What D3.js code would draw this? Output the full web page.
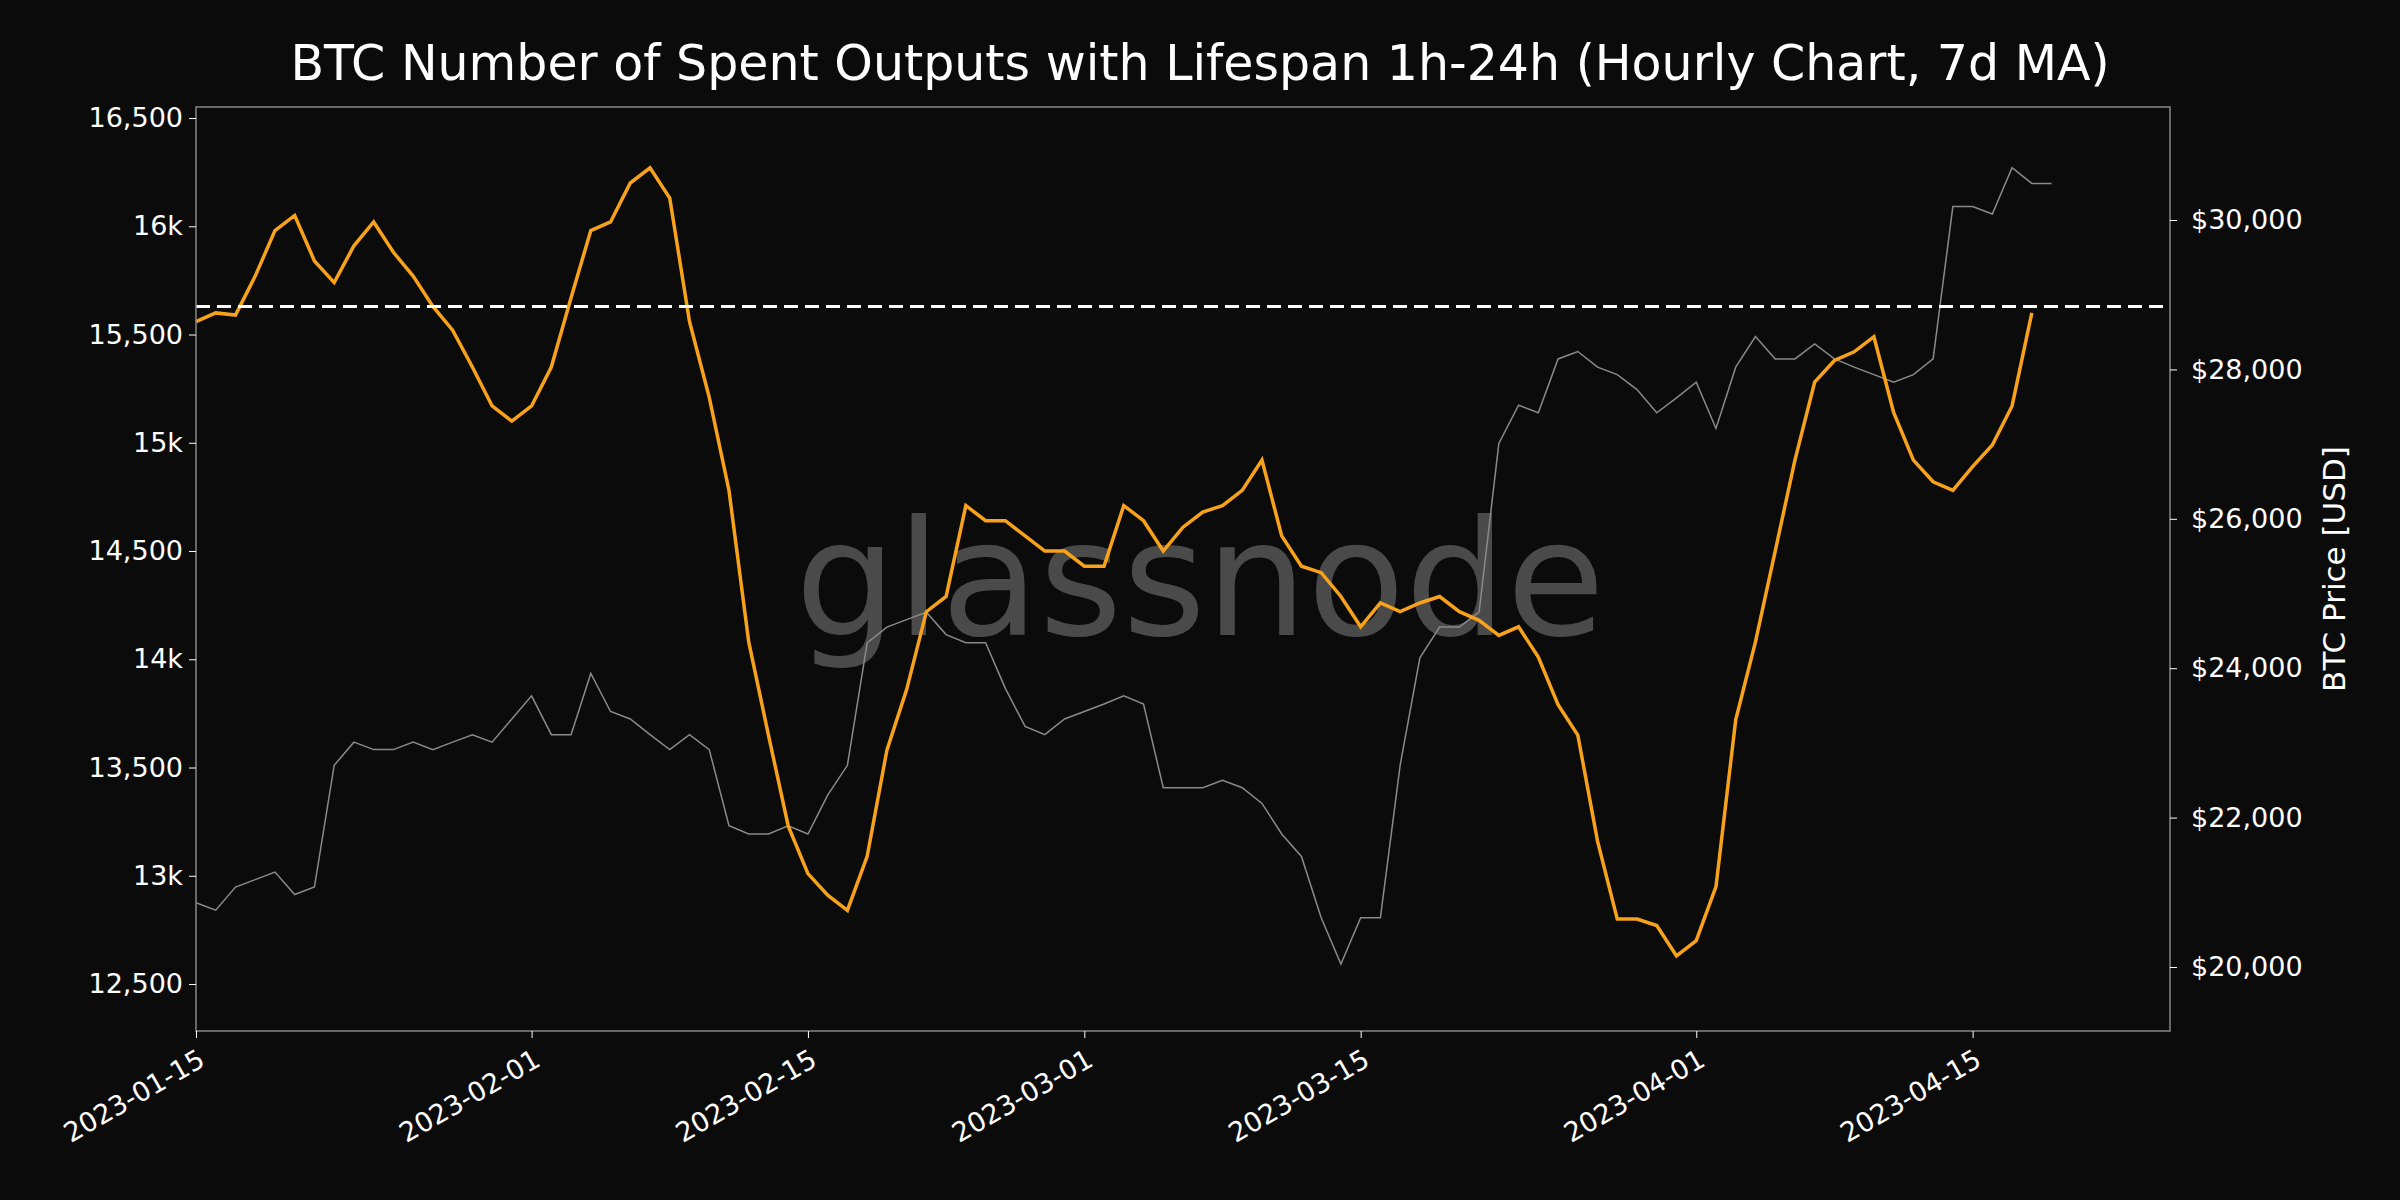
<!DOCTYPE html>
<html>
<head>
<meta charset="utf-8">
<script src="https://cdn.jsdelivr.net/npm/d3@7"></script>
<style>
  body { margin: 0; background: #0b0b0b; }
  svg text { font-family: "DejaVu Sans", sans-serif; fill: #fff; }
</style>
</head>
<body>
<div id="chart"></div>
<script>
// daily readings starting 2023-01-15
var startDate = new Date(2023, 0, 15);
var outputs = [15560,15600,15590,15770,15980,16050,15840,15740,15910,16020,
  15880,15770,15630,15520,15350,15170,15100,15170,15350,15670,
  15980,16020,16200,16270,16130,15560,15210,14780,14080,13650,
  13230,13010,12910,12840,13090,13580,13860,14220,14290,14710,
  14640,14640,14570,14500,14500,14430,14430,14710,14640,14500,
  14610,14680,14710,14780,14920,14570,14430,14400,14290,14150,
  14260,14220,14260,14290,14220,14180,14110,14150,14010,13790,
  13650,13160,12800,12800,12770,12630,12700,12950,13720,14080,
  14500,14920,15280,15380,15420,15490,15140,14920,14820,14780,
  14890,14990,15170,15600];
var price = [20860,20760,21070,21170,21270,20970,21070,22700,23010,22910,
  22910,23010,22910,23010,23110,23010,23320,23630,23110,23110,
  23930,23420,23320,23110,22910,23110,22910,21890,21780,21780,
  21890,21780,22300,22700,24340,24550,24650,24750,24450,24340,
  24340,23730,23220,23110,23320,23420,23520,23630,23520,22400,
  22400,22400,22500,22400,22190,21780,21480,20660,20040,20660,
  20660,22700,24140,24550,24550,24750,27010,27520,27420,28140,
  28240,28030,27930,27730,27420,27620,27830,27210,28030,28440,
  28140,28140,28340,28140,28030,27930,27830,27930,28140,30180,
  30180,30080,30700,30490,30490];
var refLevel = 15630;
var leftTicks = [12500,13000,13500,14000,14500,15000,15500,16000,16500];
var rightTicks = [20000,22000,24000,26000,28000,30000];
var dateTicks = ["2023-01-15","2023-02-01","2023-02-15","2023-03-01","2023-03-15","2023-04-01","2023-04-15"];

var W = 2400, H = 1200;
var m = {l: 196, r: 2170, t: 107, b: 1031};
var day = function (i) { return d3.timeDay.offset(startDate, i); };

var svg = d3.select("#chart").append("svg").attr("width", W).attr("height", H);
svg.append("rect").attr("width", W).attr("height", H).attr("fill", "#0b0b0b");

var x = d3.scaleTime().domain([startDate, new Date(2023, 3, 25)]).range([m.l, m.r]);
var yL = d3.scaleLinear().domain([12283, 16551]).range([m.b, m.t]);
var yR = d3.scaleLinear().domain([19143, 31513]).range([m.b, m.t]);

svg.append("text").attr("x", 1200).attr("y", 80).attr("text-anchor", "middle")
  .style("font-size", "49px").text("BTC Number of Spent Outputs with Lifespan 1h-24h (Hourly Chart, 7d MA)");

svg.append("text").attr("x", 1200).attr("y", 635).attr("text-anchor", "middle")
  .style("font-size", "160px").style("fill", "#5a5a5a").style("opacity", 0.8)
  .text("glassnode");

svg.append("path").datum(price)
  .attr("fill", "none").attr("stroke", "#8a8a8a").attr("stroke-width", 1.5)
  .attr("d", d3.line().x(function (d, i) { return x(day(i)); }).y(function (d) { return yR(d); }));

svg.append("path").datum(outputs)
  .attr("fill", "none").attr("stroke", "#f7a21a").attr("stroke-width", 3.5)
  .attr("d", d3.line().x(function (d, i) { return x(day(i)); }).y(function (d) { return yL(d); }));

svg.append("line").attr("x1", m.l).attr("x2", m.r).attr("y1", yL(refLevel)).attr("y2", yL(refLevel))
  .attr("stroke", "#fff").attr("stroke-width", 3).attr("stroke-dasharray", "14,7");

svg.append("rect").attr("x", m.l).attr("y", m.t).attr("width", m.r - m.l).attr("height", m.b - m.t)
  .attr("fill", "none").attr("stroke", "#888").attr("stroke-width", 1.5);

var fmtL = function (v) { return v % 1000 === 0 ? (v / 1000) + "k" : d3.format(",")(v); };
var gL = svg.append("g").attr("transform", "translate(" + m.l + ",0)")
  .call(d3.axisLeft(yL).tickValues(leftTicks).tickFormat(fmtL).tickSize(7).tickPadding(6));
var gR = svg.append("g").attr("transform", "translate(" + m.r + ",0)")
  .call(d3.axisRight(yR).tickValues(rightTicks).tickFormat(function (v) { return "$" + d3.format(",")(v); }).tickSize(7).tickPadding(14));
var parse = d3.timeParse("%Y-%m-%d");
var gX = svg.append("g").attr("transform", "translate(0," + m.b + ")")
  .call(d3.axisBottom(x).tickValues(dateTicks.map(parse)).tickFormat(d3.timeFormat("%Y-%m-%d")).tickSize(7));
gX.selectAll("text").attr("text-anchor", "end").attr("dx", "-0.3em").attr("dy", "0.9em")
  .attr("transform", "rotate(-30)");
[gL, gR, gX].forEach(function (g) {
  g.select(".domain").remove();
  g.selectAll("line").attr("stroke", "#fff");
  g.selectAll("text").style("font-size", "27px").attr("fill", "#fff");
});

svg.append("text").attr("transform", "translate(2345,569) rotate(-90)").attr("text-anchor", "middle")
  .style("font-size", "31px").text("BTC Price [USD]");
</script>
</body>
</html>
